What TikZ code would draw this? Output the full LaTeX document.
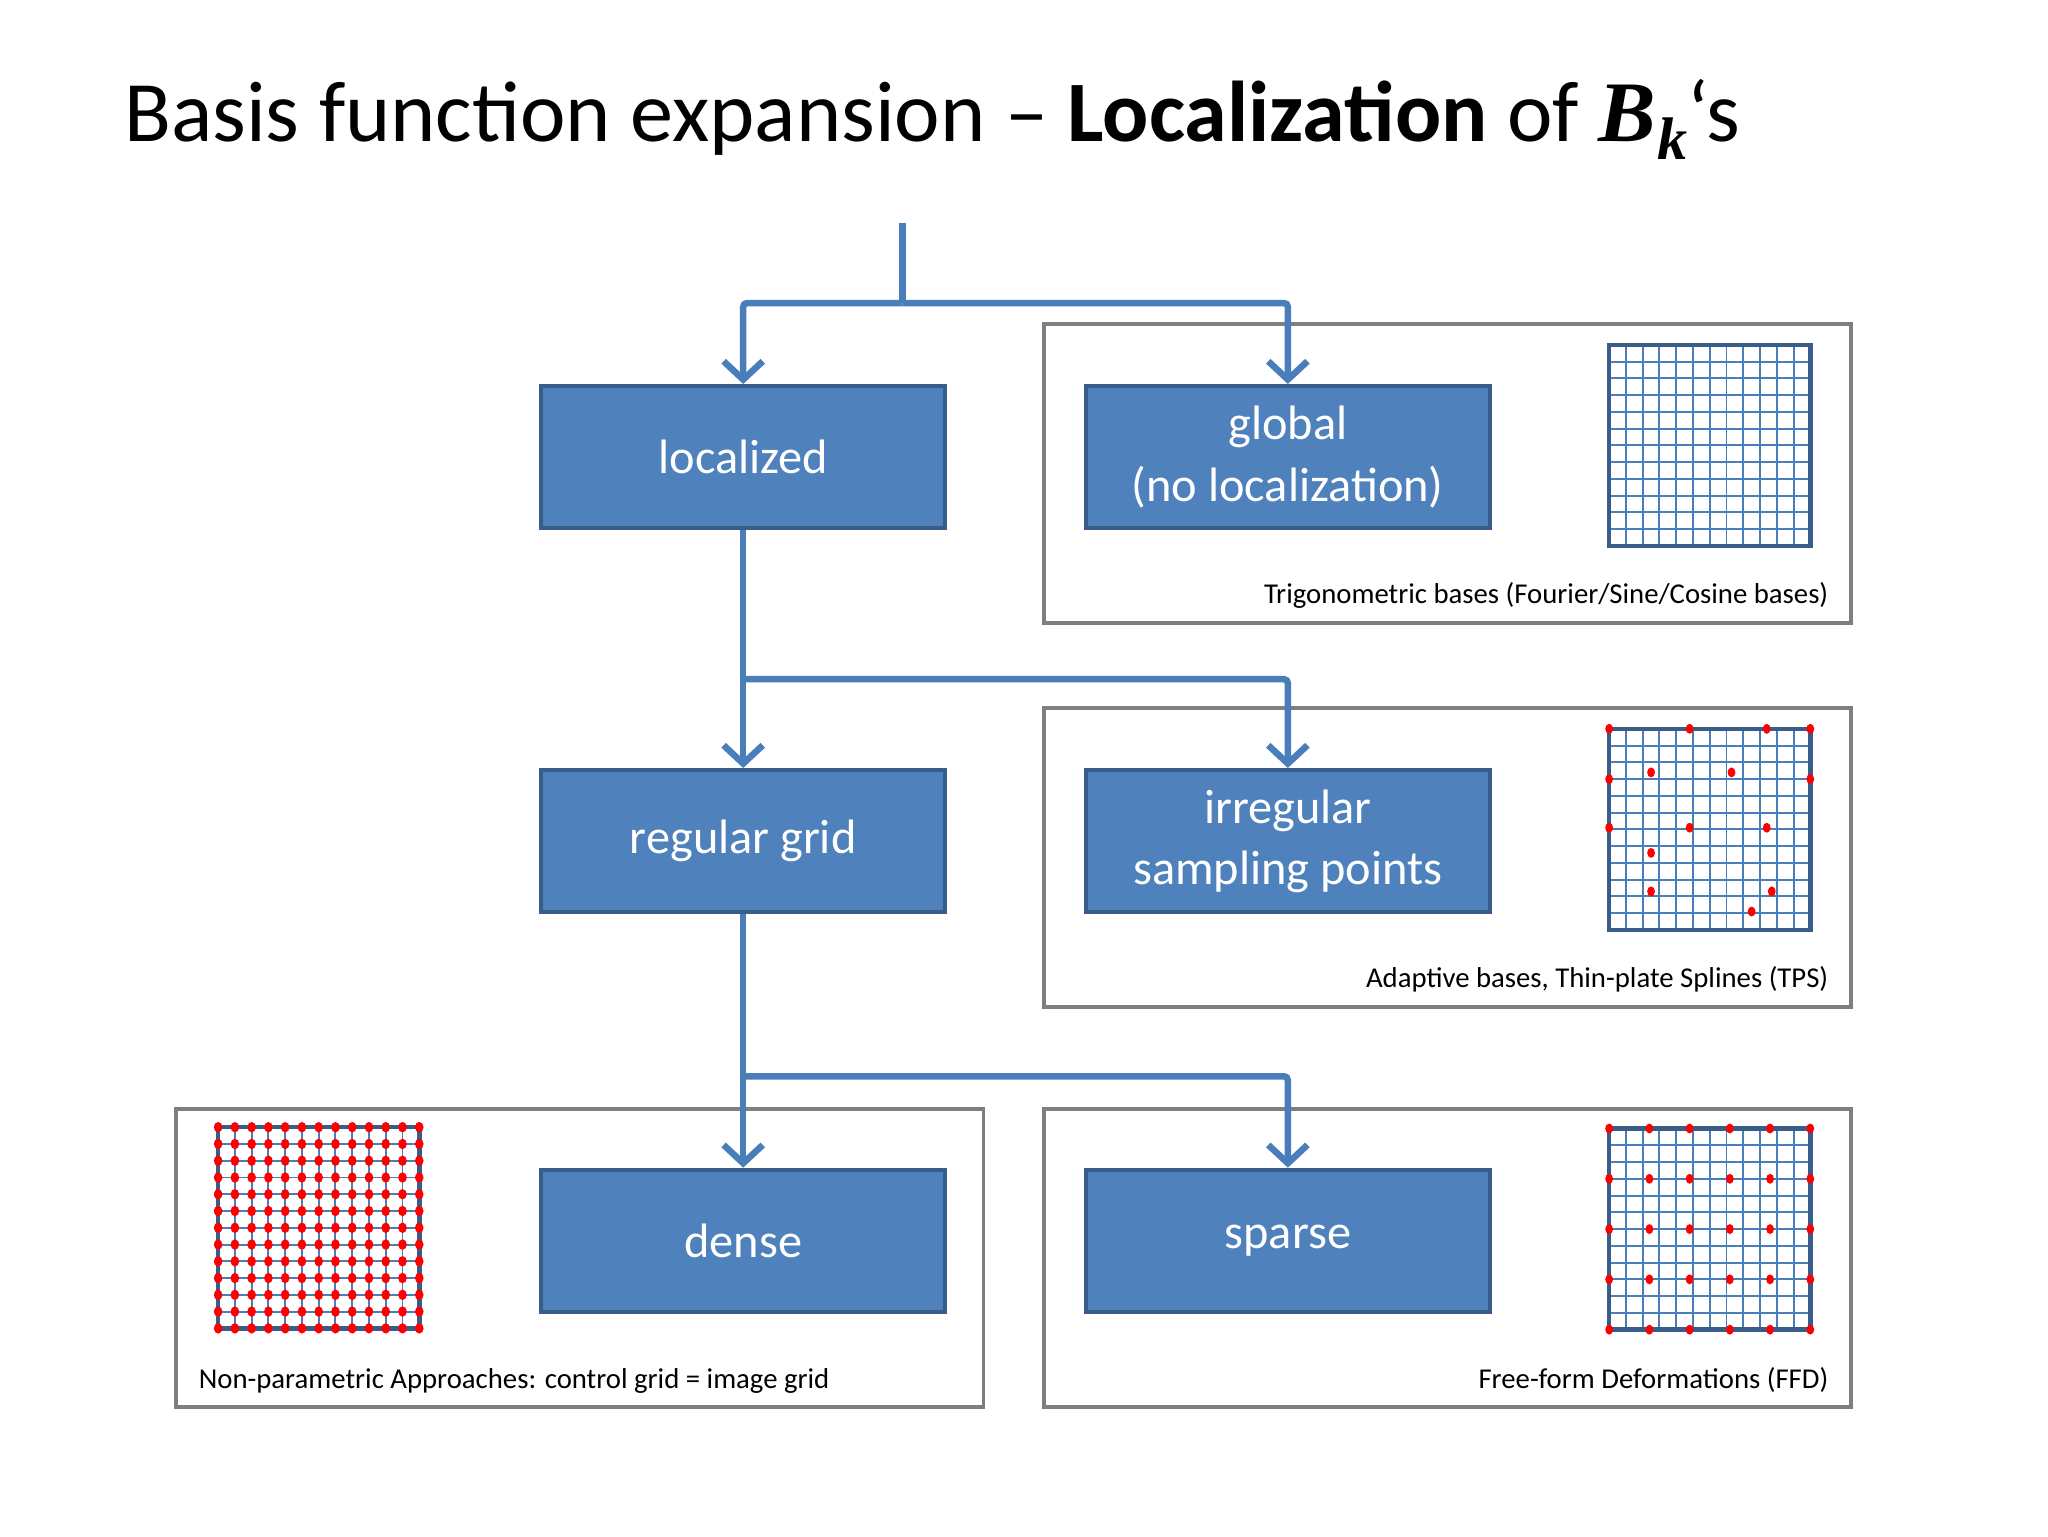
\documentclass[tikz,border=0pt]{standalone}
\usepackage{fontspec}
\setmainfont{Carlito}
\newfontfamily\tserif{Liberation Serif}
\usetikzlibrary{arrows.meta}
\definecolor{boxfill}{HTML}{4F81BD}
\definecolor{boxdraw}{HTML}{385D8A}
\definecolor{conncol}{HTML}{4A7EBB}
\definecolor{framecol}{HTML}{7F7F7F}
\definecolor{gridcol}{HTML}{4A7EBB}
\begin{document}
\begin{tikzpicture}[x=1pt,y=-1pt,
  box/.style={draw=boxdraw,line width=3pt,fill=boxfill,text=white,minimum width=309pt,minimum height=109pt,anchor=north west,inner sep=0pt,align=center,font=\fontsize{37}{47}\selectfont},
  frame/.style={draw=framecol,line width=3pt},
  conn/.style={draw=conncol,line width=5pt,rounded corners=3pt},
  arr/.style={conn,-{Straight Barb[length=14pt,width=30pt,line width=5pt]}},
  captxt/.style={font=\fontsize{22}{26}\selectfont,anchor=base east,inner sep=0pt},
  dot/.style={fill=red,draw=none}]
\useasboundingbox (0,0) rectangle (1568,1176);
\fill[white] (0,0) rectangle (1568,1176);
% title
\node[anchor=base west,inner sep=0pt,font=\fontsize{66}{70}\selectfont] (title) at (95,108)
  {Basis function expansion – \textbf{Localization} of {\tserif\bfseries\itshape B\kern1pt\raisebox{-14pt}{\fontsize{46}{50}\selectfont k}}‘s};
% frames
\draw[frame] (799,248) rectangle (1417,477);
\draw[frame] (799,542) rectangle (1417,771);
\draw[frame] (135,849) rectangle (753,1077);
\draw[frame] (799,849) rectangle (1417,1077);
% captions
\node[captxt] (c1) at (1400,462) {Trigonometric bases (Fourier/Sine/Cosine bases)};
\node[captxt] (c2) at (1400,756) {Adaptive bases, Thin-plate Splines (TPS)};
\node[captxt,anchor=base west] (c3) at (152,1063) {Non-parametric Approaches: control grid = image grid};
\node[captxt] (c4) at (1400,1063) {Free-form Deformations (FFD)};
% grids
\foreach \gx/\gy in {1232/264,1232/558,167/863,1232/864}{
  \begin{scope}[shift={(\gx,\gy)}]
    \foreach \i in {1,...,11}{
      \draw[gridcol,line width=1.5pt] ({\i*154/12},0) -- ({\i*154/12},154);
      \draw[gridcol,line width=1.5pt] (0,{\i*154/12}) -- (154,{\i*154/12});
    }
    \draw[boxdraw,line width=3.5pt] (0,0) rectangle (154,154);
  \end{scope}}
% dense dots
\begin{scope}[shift={(167,863)}]
  \foreach \i in {0,...,12}\foreach \j in {0,...,12}
    \fill[dot] ({\i*154/12},{\j*154/12}) ellipse (3.3pt and 4pt);
\end{scope}
% sparse dots
\begin{scope}[shift={(1232,864)}]
  \foreach \i in {0,...,5}\foreach \j in {0,...,4}
    \fill[dot] ({\i*154/5},{\j*154/4}) ellipse (3pt and 3.8pt);
\end{scope}
% irregular dots
\begin{scope}[shift={(1232,558)}]
  \foreach \a/\b in {0/0,4.8/0,9.4/0,12/0,2.5/2.6,7.3/2.6,0/3,12/3,0/5.9,4.8/5.9,9.4/5.9,2.5/7.4,2.5/9.7,9.7/9.7,8.5/10.9}
    \fill[dot] ({\a*154/12},{\b*154/12}) ellipse (3pt and 3.8pt);
\end{scope}
% boxes
\node[box] (loc) at (413,294) {localized};
\node[box] (glob) at (830,294) {global\\(no localization)};
\node[box] (reg) at (413,588) {regular grid};
\node[box] (irr) at (830,588) {irregular\\sampling points};
\node[box] (dense) at (413,894) {dense};
\node[box] (sparse) at (830,894) {sparse};
% connectors
\coordinate (top) at (691,171);
\coordinate (s1) at (691,232);
\coordinate (s2) at (568,520);
\coordinate (s3) at (568,824);
\draw[conn] (top) -- (s1);
\draw[arr] (s1) -| (loc.north);
\draw[arr] (s1) -| (glob.north);
\draw[arr] (loc.south) -- (reg.north);
\draw[arr] (s2) -| (irr.north);
\draw[arr] (reg.south) -- (dense.north);
\draw[arr] (s3) -| (sparse.north);
\end{tikzpicture}
\end{document}
